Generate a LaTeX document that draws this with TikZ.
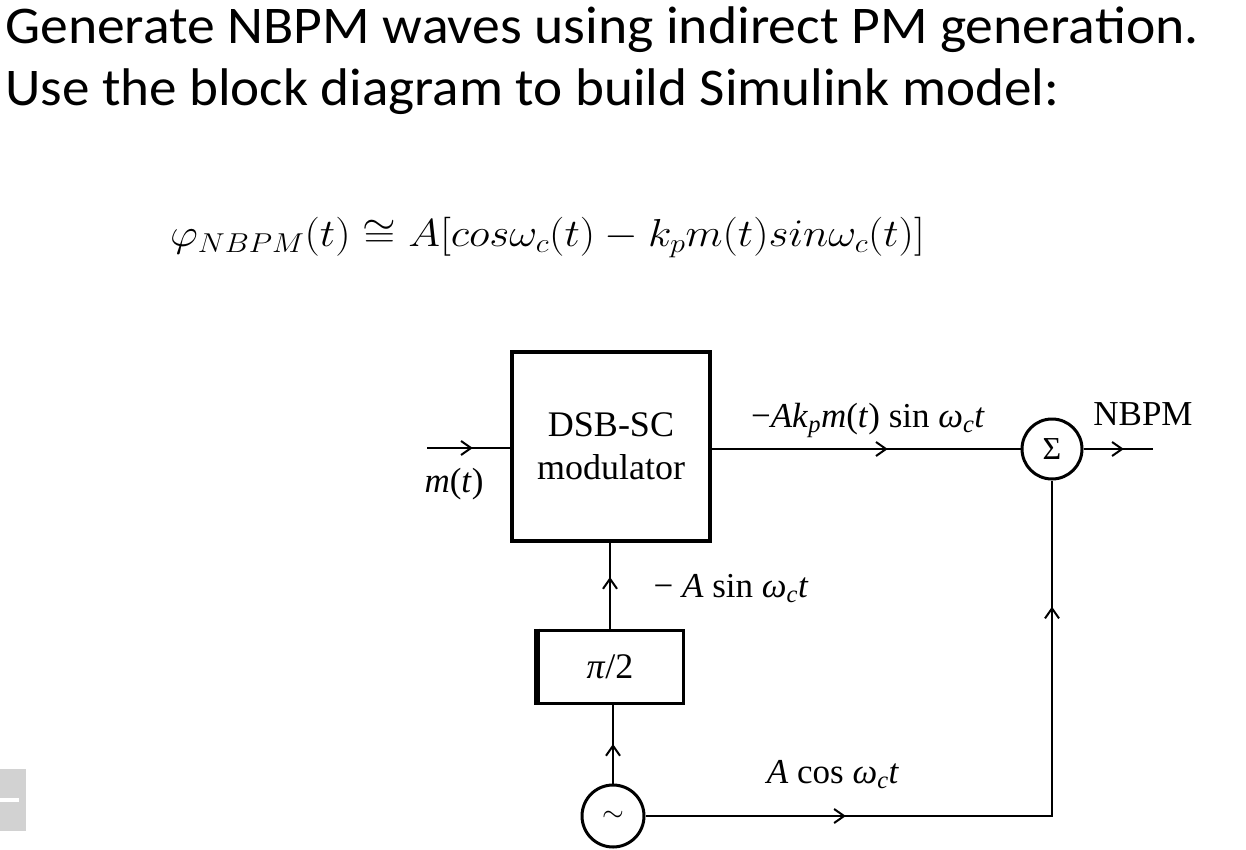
\RequirePackage{fix-cm}
\documentclass[tikz,border=0pt]{standalone}
\usepackage{fontspec}
\newfontfamily\titlefont{Carlito}
\newfontfamily\tms{Liberation Serif}
\usetikzlibrary{arrows.meta,decorations.markings}
\begin{document}
\begin{tikzpicture}[x=1pt,y=-1pt,
  title/.style={anchor=base west,inner sep=0pt,font=\titlefont\fontsize{53}{60}\selectfont},
  lab/.style={inner sep=0pt,font=\tms\fontsize{35}{40}\selectfont},
  blk/.style={draw,line width=3.5pt,inner sep=0pt,font=\tms\fontsize{36}{43}\selectfont,align=center},
  circ/.style={draw,circle,line width=3pt,inner sep=0pt,minimum size=60pt},
  wire/.style={line width=2.5pt},
  midarrow/.style={postaction={decorate},decoration={markings,
     mark=at position #1 with {\arrow{Straight Barb[length=10pt,width=14pt,line width=2pt]}}}},
  twoarrows/.style 2 args={postaction={decorate},decoration={markings,
     mark=at position #1 with {\arrow{Straight Barb[length=10pt,width=14pt,line width=2pt]}},
     mark=at position #2 with {\arrow{Straight Barb[length=10pt,width=14pt,line width=2pt]}}}}
]
\useasboundingbox (0,0) rectangle (1246,850);
% titles
\node[title] (t1) at (5,44) {\scalebox{1.05}[1]{Generate NBPM waves using indirect PM generation.}};
\node[title] (t2) at (5,106) {\scalebox{1.04}[1]{Use the block diagram to build Simulink model:}};
\node[anchor=base west,inner sep=0pt,font=\fontsize{39}{44}\selectfont] (eq) at (170,247)
  {\scalebox{1.11}[1]{$\varphi_{NBPM}(t)\cong A[cos\omega_c(t)-k_pm(t)sin\omega_c(t)]$}};
% blocks
\node[blk,minimum width=198pt,minimum height=189pt] (dsb) at (611,446.5) {DSB-SC\\modulator};
\node[blk,minimum width=146pt,minimum height=73pt,line width=3pt] (pi) at (610,666.5) {\textit{π}/2};
\draw[line width=6pt] ([xshift=1.5pt]pi.north west) -- ([xshift=1.5pt]pi.south west);
\node[circ,font=\tms\fontsize{32}{34}\selectfont] (sum) at (1052,449) {Σ};
\node[circ,minimum size=62pt] (osc) at (613,816) {\fontsize{28}{30}\selectfont$\sim$};
\coordinate (in) at (427,448);
\coordinate (out) at (1153,449);
% wires
\draw[wire,midarrow=0.55] (in) -- (in -| dsb.west);
\draw[wire,midarrow=0.57] (dsb.east |- sum.west) -- (sum.west);
\draw[wire,midarrow=0.58] (sum.east) -- (out);
\draw[wire,midarrow=0.6] (pi.north) -- (pi.north |- dsb.south);
\draw[wire,midarrow=0.5] (osc.north) -- (osc.north |- pi.south);
\draw[wire,line width=2pt,twoarrows={0.27}{0.83}] (osc.east) -| (sum.south);
% labels
\node[lab,anchor=base] (lm) at (454,492) {\textit{m}(\textit{t})};
\node[lab,anchor=base] (lx) at (868,427) {−\textit{Ak}\textsubscript{\textit{p}}\textit{m}(\textit{t}) sin \textit{ω}\textsubscript{\textit{c}}\textit{t}};
\node[lab,anchor=base] (lo) at (1143,425) {NBPM};
\node[lab,anchor=base] (ls) at (731,597) {− \textit{A} sin \textit{ω}\textsubscript{\textit{c}}\textit{t}};
\node[lab,anchor=base] (lc) at (833,783) {\textit{A} cos \textit{ω}\textsubscript{\textit{c}}\textit{t}};
% page artefact
\fill[gray!35] (0,769) rectangle (26,831);
\fill[white] (0,798) rectangle (19,802);
\end{tikzpicture}
\end{document}
